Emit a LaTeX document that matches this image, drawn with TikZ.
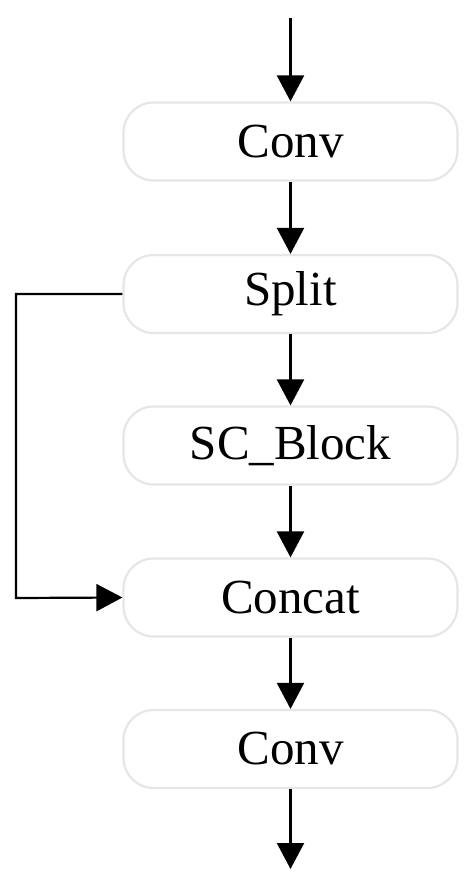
\documentclass[tikz,border=0pt]{standalone}
\usepackage{fontspec}
\setmainfont{Liberation Serif}
\usetikzlibrary{arrows.meta}
\definecolor{boxline}{HTML}{E6E6E6}
\begin{document}
\begin{tikzpicture}[x=1pt,y=-1pt,
  blk/.style={draw=boxline,line width=2.2pt,rounded corners=30pt,fill=white,
    minimum width=334pt,minimum height=78pt,inner sep=0pt,
    font=\fontsize{49}{52}\selectfont},
  arr/.style={line width=2.2pt,-{Triangle[width=27pt,length=26pt]}}]
\useasboundingbox (0,0) rectangle (474,887);
\node[blk] (conv1) at (290.5,141.5) {Conv};
\node[blk] (split) at (290.5,294) {Split};
\node[blk] (sc) at (290.5,445.5) {SC\_Block};
\node[blk] (concat) at (290.5,597.5) {Concat};
\node[blk] (conv2) at (290.5,749) {Conv};
\coordinate (in) at (290.5,18);
\coordinate (out) at (290.5,869);
\coordinate (lt) at (16,294);
\coordinate (lb) at (16,598);
\draw[arr] (in) -- (conv1.north);
\draw[arr] (conv1.south) -- (split.north);
\draw[arr] (split.south) -- (sc.north);
\draw[arr] (sc.south) -- (concat.north);
\draw[arr] (concat.south) -- (conv2.north);
\draw[arr] (conv2.south) -- (out);
\draw[arr] (split.west) -- (lt) -- (lb) -- (concat.west);
\end{tikzpicture}
\end{document}
